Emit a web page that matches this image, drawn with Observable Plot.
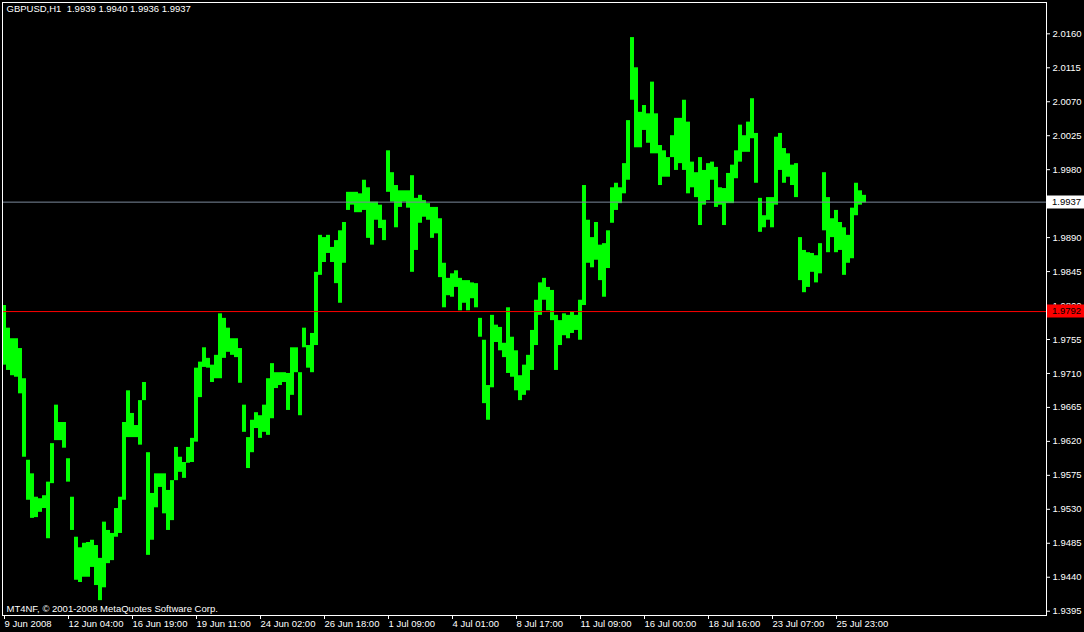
<!DOCTYPE html>
<html>
<head>
<meta charset="utf-8">
<script src="https://cdn.jsdelivr.net/npm/d3@7"></script>
<script src="https://cdn.jsdelivr.net/npm/@observablehq/plot@0.6"></script>
<style>
  html, body { margin: 0; padding: 0; background: #000; }
  #chart { width: 1084px; height: 632px; overflow: hidden; }
</style>
</head>
<body>
<div id="chart"></div>
<script>
// GBPUSD H1 — envelope of hourly bars, sampled every 4 bars (high / low)
const high = [
1.9800,1.9770,1.9756,1.9756,1.9743,1.9703,1.9595,1.9577,1.9546,1.9544,
1.9548,1.9566,1.9617,1.9668,1.9645,1.9645,1.9597,1.9546,1.9493,1.9479,
1.9485,1.9486,1.9489,1.9482,1.9465,1.9513,1.9502,1.9498,1.9531,1.9546,
1.9645,1.9687,1.9657,1.9641,1.9674,1.9698,1.9605,1.9551,1.9577,1.9577,
1.9577,1.9555,1.9568,1.9612,1.9599,1.9592,1.9612,1.9624,1.9717,1.9725,
1.9744,1.9730,1.9721,1.9734,1.9789,1.9783,1.9770,1.9756,1.9756,1.9743,
1.9668,1.9625,1.9648,1.9658,1.9654,1.9668,1.9703,1.9723,1.9711,1.9711,
1.9711,1.9710,1.9744,1.9744,1.9711,1.9770,1.9747,1.9763,1.9844,1.9893,
1.9890,1.9893,1.9877,1.9886,1.9899,1.9910,1.9950,1.9950,1.9950,1.9948,
1.9966,1.9956,1.9937,1.9937,1.9933,1.9913,2.0005,1.9976,1.9959,1.9952,
1.9952,1.9952,1.9972,1.9942,1.9946,1.9939,1.9935,1.9930,1.9930,1.9915,
1.9856,1.9836,1.9842,1.9846,1.9836,1.9833,1.9833,1.9830,1.9829,1.9783,
1.9754,1.9694,1.9787,1.9774,1.9771,1.9750,1.9797,1.9758,1.9740,1.9707,
1.9721,1.9734,1.9767,1.9807,1.9830,1.9836,1.9824,1.9820,1.9787,1.9780,
1.9789,1.9787,1.9791,1.9787,1.9807,1.9959,1.9913,1.9890,1.9910,1.9880,
1.9882,1.9899,1.9956,1.9962,1.9956,1.9988,2.0045,2.0155,2.0115,2.0056,
2.0065,2.0054,2.0096,2.0054,2.0012,2.0005,1.9996,2.0025,2.0048,2.0048,
2.0072,2.0043,1.9990,1.9976,1.9996,1.9979,1.9988,1.9990,1.9983,1.9956,
1.9955,1.9975,1.9986,2.0005,2.0039,2.0025,2.0043,2.0074,2.0028,1.9942,
1.9919,1.9943,1.9943,2.0023,2.0028,2.0008,2.0001,1.9986,1.9988,1.9890,
1.9873,1.9870,1.9869,1.9866,1.9882,1.9976,1.9943,1.9915,1.9926,1.9910,
1.9903,1.9893,1.9929,1.9962,1.9952,1.9946
];
const low = [
1.9721,1.9714,1.9707,1.9705,1.9683,1.9599,1.9542,1.9518,1.9519,1.9526,
1.9531,1.9491,1.9564,1.9621,1.9621,1.9611,1.9566,1.9502,1.9436,1.9433,
1.9440,1.9440,1.9453,1.9429,1.9409,1.9426,1.9458,1.9462,1.9493,1.9498,
1.9542,1.9625,1.9625,1.9625,1.9615,1.9674,1.9469,1.9489,1.9532,1.9559,
1.9524,1.9502,1.9515,1.9568,1.9579,1.9571,1.9591,1.9592,1.9619,1.9678,
1.9718,1.9717,1.9698,1.9703,1.9703,1.9730,1.9738,1.9734,1.9731,1.9697,
1.9632,1.9584,1.9605,1.9637,1.9624,1.9632,1.9628,1.9650,1.9690,1.9694,
1.9698,1.9661,1.9681,1.9711,1.9654,1.9744,1.9717,1.9711,1.9747,1.9840,
1.9857,1.9869,1.9857,1.9829,1.9803,1.9856,1.9926,1.9933,1.9923,1.9923,
1.9926,1.9889,1.9880,1.9913,1.9902,1.9886,1.9950,1.9937,1.9903,1.9930,
1.9937,1.9929,1.9844,1.9873,1.9909,1.9917,1.9913,1.9889,1.9895,1.9837,
1.9797,1.9813,1.9811,1.9824,1.9793,1.9803,1.9793,1.9809,1.9797,1.9758,
1.9670,1.9648,1.9691,1.9751,1.9740,1.9731,1.9710,1.9705,1.9687,1.9674,
1.9681,1.9687,1.9714,1.9747,1.9787,1.9807,1.9793,1.9780,1.9714,1.9747,
1.9760,1.9756,1.9763,1.9767,1.9754,1.9800,1.9856,1.9850,1.9860,1.9833,
1.9811,1.9849,1.9909,1.9926,1.9935,1.9948,1.9966,2.0072,2.0009,2.0009,
2.0032,2.0015,2.0001,2.0001,1.9959,1.9970,1.9970,1.9996,1.9979,1.9988,
1.9979,1.9948,1.9956,1.9943,1.9906,1.9933,1.9939,1.9966,1.9930,1.9933,
1.9906,1.9935,1.9935,1.9968,1.9990,2.0003,2.0003,2.0021,1.9962,1.9897,
1.9903,1.9913,1.9903,1.9933,1.9979,1.9962,1.9970,1.9959,1.9943,1.9833,
1.9817,1.9824,1.9844,1.9830,1.9842,1.9899,1.9870,1.9890,1.9870,1.9873,
1.9840,1.9856,1.9862,1.9919,1.9933,1.9936
];
// time-axis labels (one every 16 samples = 64 hourly bars)
const xTickIndex = [0,16,32,48,64,80,96,112,128,144,160,176,192,208];
const xTickLabels = ["9 Jun 2008","12 Jun 04:00","16 Jun 19:00","19 Jun 11:00","24 Jun 02:00",
  "26 Jun 18:00","1 Jul 09:00","4 Jul 01:00","8 Jul 17:00","11 Jul 09:00","16 Jul 00:00",
  "18 Jul 16:00","23 Jul 07:00","25 Jul 23:00"];
// price-axis labels (1.9935 is hidden under the bid box in the original)
const yTicks = [1.9395,1.9440,1.9485,1.9530,1.9575,1.9620,1.9665,1.9710,1.9755,1.9800,
  1.9845,1.9890,1.9980,2.0025,2.0070,2.0115,2.0160];
const yTickLabels = ["1.9395","1.9440","1.9485","1.9530","1.9575","1.9620","1.9665","1.9710","1.9755","1.9800",
  "1.9845","1.9890","1.9980","2.0025","2.0070","2.0115","2.0160"];
// horizontal price lines
const bidLine = 1.9937;
const levelLine = 1.9792;
const titleText = "GBPUSD,H1  1.9939 1.9940 1.9936 1.9937";
const footerText = "MT4NF, \u00A9 2001-2008 MetaQuotes Software Corp.";

const bars = high.map((h, i) => ({i, high: h, low: low[i]}));
const FONT = "'Liberation Sans', Arial, sans-serif";

const plot = Plot.plot({
  width: 1084,
  height: 632,
  marginLeft: 2,
  marginRight: 38,
  marginTop: 2,
  marginBottom: 17,
  style: {background: "#000", color: "#fff", fontFamily: FONT, fontSize: "9.5px"},
  x: {domain: [0, 261], axis: null},
  y: {domain: [1.93893, 2.02015], axis: null},
  marks: [
    Plot.rect(bars, {x1: "i", x2: d => d.i + 1, y1: "low", y2: "high", fill: "#00ff00"}),
    Plot.ruleY([bidLine], {stroke: "#7b8a9b", strokeWidth: 1}),
    Plot.ruleY([levelLine], {stroke: "#ff0000", strokeWidth: 1}),
    Plot.frame({stroke: "#fff"}),
    Plot.axisY(yTicks, {anchor: "right", tickSize: 3, tickPadding: 3, stroke: "#fff", fill: "#fff",
      tickFormat: (d, i) => yTickLabels[i], label: null}),
    Plot.axisX(xTickIndex, {anchor: "bottom", tickSize: 4, tickPadding: 1, stroke: "#fff", fill: "#fff",
      textAnchor: "start", dx: 2, tickFormat: (d, i) => xTickLabels[i], label: null}),
    Plot.text([titleText], {frameAnchor: "top-left", dx: 4, dy: 3, fill: "#fff", textAnchor: "start", fontSize: 9.5}),
    Plot.text([footerText], {frameAnchor: "bottom-left", dx: 4, dy: -4, fill: "#fff", textAnchor: "start", fontSize: 9.5})
  ]
});

document.getElementById("chart").appendChild(plot);

// price label boxes on the right axis, placed with the plot's own y scale
const ys = plot.scale("y");
const svg = d3.select(plot);
const boxes = [
  {value: levelLine, fill: "#ff0000"},
  {value: bidLine, fill: "#ffffff"}
];
for (const b of boxes) {
  const y = Math.round(ys.apply(b.value));
  const g = svg.append("g");
  g.append("rect").attr("x", 1047).attr("y", y - 6.5).attr("width", 37).attr("height", 13).attr("fill", b.fill);
  g.append("text").attr("x", 1052).attr("y", y).attr("dy", "0.32em").attr("text-anchor", "start")
    .attr("fill", "#000").attr("font-family", FONT).attr("font-size", "9.5px").text(b.value.toFixed(4));
}
</script>
</body>
</html>
